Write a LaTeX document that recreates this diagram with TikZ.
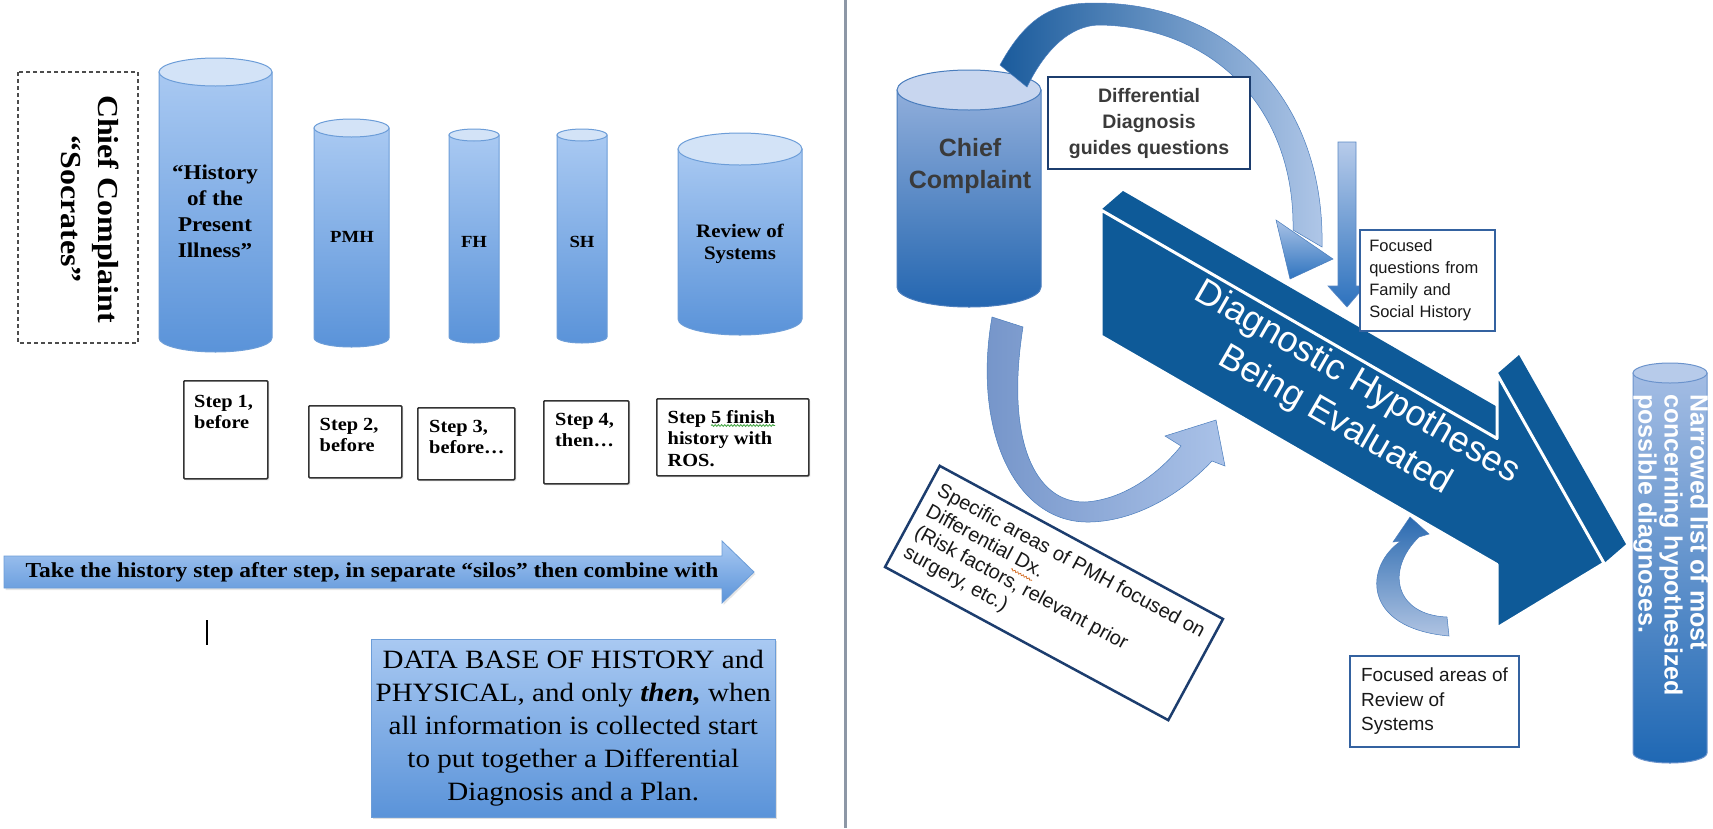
\documentclass[tikz,border=0pt]{standalone}
\usepackage{fontspec}
\setmainfont{Liberation Serif}[FakeStretch=1.1]
\newfontfamily\arialf{Liberation Sans}
\usetikzlibrary{shadows,decorations.pathmorphing}
\definecolor{lsTop}{HTML}{A9C9F2}
\definecolor{lsBot}{HTML}{5A93D9}
\definecolor{lsCap}{HTML}{D3E3F7}
\definecolor{lsEdge}{HTML}{6C9DD8}
\definecolor{bigblue}{HTML}{0E5A98}
\definecolor{rcCap}{HTML}{C8D6EF}
\definecolor{rcTop}{HTML}{90AEDB}
\definecolor{rcBot}{HTML}{2466B0}
\definecolor{rcEdge}{HTML}{4A7DBD}
\definecolor{navy}{HTML}{1C3D6E}
\definecolor{boxblue}{HTML}{3462A0}
\definecolor{divgray}{HTML}{8D97A6}
\definecolor{txtgray}{HTML}{3A3A3A}
\definecolor{arcA}{HTML}{1A5B9C}
\definecolor{arcB}{HTML}{B0C7E8}
\definecolor{headA}{HTML}{A9C2E6}
\definecolor{headB}{HTML}{2F74BF}
\definecolor{vaA}{HTML}{B7CBEA}
\definecolor{vaB}{HTML}{2D72BE}
\definecolor{vaEdge}{HTML}{5A88C4}
\definecolor{pmA}{HTML}{7393C8}
\definecolor{pmB}{HTML}{1D5FA7}
\definecolor{pmC}{HTML}{AAC2E8}
\definecolor{roA}{HTML}{2A6AB0}
\definecolor{roB}{HTML}{AFC3E2}
\definecolor{ncTop}{HTML}{A4BDE4}
\definecolor{ncBot}{HTML}{1F68B4}
\definecolor{ncCap}{HTML}{B7CBEA}
\definecolor{ncEdge}{HTML}{6B93CC}
\definecolor{squigG}{HTML}{3DA33D}
\definecolor{squigR}{HTML}{D2691E}
\newcommand\fsz[2]{\fontsize{#1}{#2}\selectfont}
% xl, xr, ytop, ry, ybot, top color, bottom color, cap color, edge color
\newcommand\drawsilo[9]{%
  \shadedraw[top color=#6,bottom color=#7,draw=#9,line width=1]
    (#1,#3) -- (#1,#5) arc[start angle=180,end angle=0,x radius={(#2-#1)/2},y radius=#4] -- (#2,#3) -- cycle;
  \filldraw[fill=#8,draw=#9,line width=1] ({(#1+#2)/2},#3) ellipse [x radius={(#2-#1)/2},y radius=#4];
}
\tikzset{
  silotext/.style={font=\bfseries, align=center, inner sep=0},
  stepbox/.style={draw=black!80, line width=1.6, fill=white, inner sep=0, rounded corners=1,
                  drop shadow={opacity=.18, shadow xshift=1.5pt, shadow yshift=-1.5pt}},
  steptext/.style={font=\fsz{18.5}{21.5}\bfseries, align=left, inner sep=0, anchor=north west},
  rbox/.style={draw=boxblue, line width=1.5, fill=white, text=black!90, align=left},
  whitetext/.style={text=white, font=\arialf\bfseries\fsz{25}{26}, align=left, inner sep=0},
  squiggle/.style={line width=.8, decorate, decoration={snake, amplitude=.9pt, segment length=3.2pt}},
}
\begin{document}
\begin{tikzpicture}[x=1pt,y=-1pt]
\useasboundingbox (0,0) rectangle (1713,828);
\fill[white] (0,0) rectangle (1713,828);

% ---------------- LEFT PANEL ----------------
\draw[black!70, line width=1.5, dash pattern=on 4pt off 3pt] (18,72) rectangle (138,343);
\node[silotext, rotate=-90, font=\fsz{29}{37}\bfseries] (cc) at (90,209) {Chief Complaint\\“Socrates”};

\drawsilo{159}{272}{72}{14}{338}{lsTop}{lsBot}{lsCap}{lsEdge}
\drawsilo{314}{389}{128}{9}{338}{lsTop}{lsBot}{lsCap}{lsEdge}
\drawsilo{449}{499}{135}{6}{337}{lsTop}{lsBot}{lsCap}{lsEdge}
\drawsilo{557}{607}{135}{6}{337}{lsTop}{lsBot}{lsCap}{lsEdge}
\drawsilo{678}{802}{149}{16}{319}{lsTop}{lsBot}{lsCap}{lsEdge}
\node[silotext, font=\fsz{21}{26}\bfseries] (hpi) at (215,211) {“History\\of the\\Present\\Illness”};
\node[silotext, font=\fsz{17}{22}\bfseries] (pmh) at (352,237) {PMH};
\node[silotext, font=\fsz{17}{22}\bfseries] (fh) at (474,242) {FH};
\node[silotext, font=\fsz{17}{22}\bfseries] (sh) at (582,242) {SH};
\node[silotext, font=\fsz{19}{22}\bfseries] (ros) at (740,244) {Review of\\Systems};

\node[stepbox, minimum width=84, minimum height=98, anchor=north west] (s1) at (183,380) {};
\node[stepbox, minimum width=93, minimum height=72, anchor=north west] (s2) at (308,405) {};
\node[stepbox, minimum width=97, minimum height=72, anchor=north west] (s3) at (417,407) {};
\node[stepbox, minimum width=85, minimum height=83, anchor=north west] (s4) at (543,400) {};
\node[stepbox, minimum width=152, minimum height=77, anchor=north west] (s5) at (656,398) {};
\node[steptext] (t1) at ([shift={(11,15)}]s1.north west) {Step 1,\\before};
\node[steptext] (t2) at ([shift={(11.5,13)}]s2.north west) {Step 2,\\before};
\node[steptext] (t3) at ([shift={(12,13)}]s3.north west) {Step 3,\\before…};
\node[steptext] (t4) at ([shift={(12,13)}]s4.north west) {Step 4,\\then…};
\node[steptext] (t5) at ([shift={(11.5,12)}]s5.north west) {Step 5 finish\\history with\\ROS.};
\coordinate (sq1a) at (711,425.5);
\coordinate (sq1b) at (775,425.5);
\draw[squiggle, squigG] (sq1a) -- (sq1b);

\shadedraw[top color=lsTop, bottom color=lsBot, draw=lsEdge, line width=.8,
           drop shadow={opacity=.2, shadow xshift=1.5pt, shadow yshift=-2pt}]
  (4,556) -- (722,556) -- (722,541) -- (754,572) -- (722,603) -- (722,588) -- (4,588) -- cycle;
\node[inner sep=0, font=\fsz{21.3}{26}\bfseries] (take) at (372,572) {Take the history step after step, in separate “silos” then combine with};

\coordinate (cur1) at (207,620);
\coordinate (cur2) at (207,645);
\draw[line width=1.3] (cur1) -- (cur2);

\node[top color=lsTop, bottom color=lsBot, draw=lsEdge, line width=.6,
      drop shadow={opacity=.25, shadow xshift=2pt, shadow yshift=-2pt},
      minimum width=404, minimum height=178, anchor=north west, align=center,
      font=\fsz{26.4}{33}] (db) at (371,639)
  {DATA BASE OF HISTORY and\\PHYSICAL, and only \textbf{\textit{then,}} when\\all information is collected start\\to put together a Differential\\Diagnosis and a Plan.};

% divider
\coordinate (dv1) at (845,0);
\coordinate (dv2) at (845,828);
\draw[divgray, line width=3] (dv1) -- (dv2);

% ---------------- RIGHT PANEL ----------------
\fill[bigblue] (1101,210) -- (1123,191) -- (1497,406.8) -- (1497,438.5) -- cycle;
\fill[bigblue] (1497,374) -- (1519,355) -- (1626,544.2) -- (1604,563.2) -- cycle;
\filldraw[fill=bigblue, draw=white, line width=3, line join=round]
  (1101,210) -- (1497,438.5) -- (1497,374) -- (1604,563.2) -- (1497,628) -- (1497,564.5) -- (1101,336) -- cycle;
\node[rotate=-30, text=white, align=center, font=\arialf\fsz{36}{44}] (dh) at (1346,402) {Diagnostic Hypotheses\\Being Evaluated};

\drawsilo{897}{1041}{90}{20}{287}{rcTop}{rcBot}{rcCap}{rcEdge}
\node[text=txtgray, font=\arialf\bfseries\fsz{25}{32}, align=center, inner sep=0] (ccr) at (970,166) {Chief\\Complaint};

\shadedraw[left color=arcA, right color=arcB, draw=rcEdge, line width=.5]
  (1000,65) .. controls (1030,10) and (1060,3) .. (1095,3)
  .. controls (1230,3) and (1325,100) .. (1322,247) -- (1293,230)
  .. controls (1295,110) and (1215,27) .. (1100,25)
  .. controls (1070,25) and (1045,50) .. (1027,87) -- cycle;
\shadedraw[top color=headA, bottom color=headB, draw=rcEdge, line width=.5]
  (1276,220) -- (1333,259) -- (1290,279) -- cycle;

\node[draw=navy, line width=2.5, fill=white, minimum width=202, minimum height=92, align=center,
      text=txtgray, font=\arialf\bfseries\fsz{19.5}{26}] (dd) at (1149,123) {Differential\\Diagnosis\\guides questions};

\shadedraw[top color=vaA, bottom color=vaB, draw=vaEdge, line width=.6]
  (1338,142) -- (1356,142) -- (1356,286) -- (1365,286) -- (1347,307) -- (1328,286) -- (1338,286) -- cycle;
\node[rbox, minimum width=135, minimum height=101, anchor=north west, inner xsep=9.5, text width=116,
      font=\arialf\fsz{16.5}{22.3}] (fq) at (1359,229)
  {Focused\\questions from\\Family and\\Social History};

\shadedraw[left color=pmA, middle color=pmB, right color=pmC, draw=rcEdge, line width=.5]
  (992,317) .. controls (972,430) and (1015,524) .. (1090,522)
  .. controls (1135,521) and (1180,495) .. (1212,461) -- (1225,466) -- (1216,420) -- (1165,436) -- (1181,446)
  .. controls (1155,478) and (1120,500) .. (1085,502)
  .. controls (1035,503) and (1005,440) .. (1023,327) -- cycle;

\node[draw=navy, line width=2.5, fill=white, rotate=-28.4, minimum width=322, minimum height=115,
      align=left, text=black!90, font=\arialf\fsz{20}{23.5}] (spec) at (1054,593)
  {Specific areas of PMH focused on\\Differential Dx.\\(Risk factors, relevant prior\\surgery, etc.)};
\coordinate (sq2a) at (1011,569);
\coordinate (sq2b) at (1032,580.5);
\draw[squiggle, squigR, line width=.7] (sq2a) -- (sq2b);

\shadedraw[top color=roA, bottom color=roB, draw=rcEdge, line width=.5]
  (1449,636) .. controls (1360,628) and (1365,565) .. (1401,541) -- (1393,542) -- (1410,517) -- (1429,534)
  -- (1419,537) .. controls (1385,570) and (1395,615) .. (1447,617) -- cycle;
\node[rbox, minimum width=169, minimum height=91, inner xsep=10, font=\arialf\fsz{19}{24.5}] (fr) at (1434.5,701.5)
  {Focused areas of\\Review of\\Systems};

\drawsilo{1633}{1707}{373}{10}{753}{ncTop}{ncBot}{ncCap}{ncEdge}
\node[whitetext, rotate=-90] (nl) at (1671,545) {Narrowed list of most\\concerning hypothesized\\possible diagnoses.};
\end{tikzpicture}
\end{document}
